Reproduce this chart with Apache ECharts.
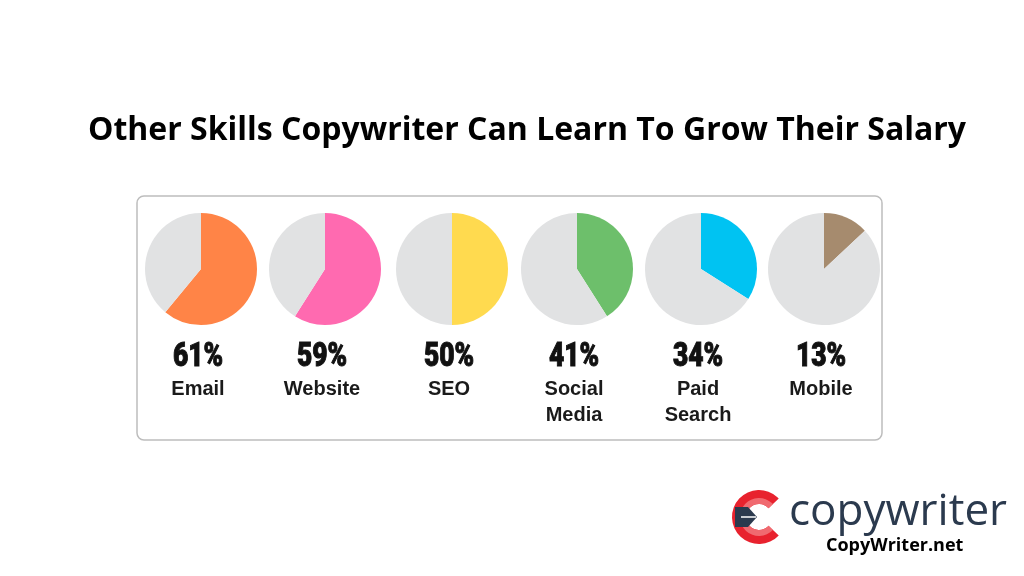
<!DOCTYPE html>
<html><head><meta charset="utf-8">
<script src="https://cdn.jsdelivr.net/npm/echarts@6/dist/echarts.min.js"></script>
<style>html,body{margin:0;padding:0;background:#fff}#c{width:1024px;height:576px}</style>
</head><body><div id="c"></div>
<script>
var categories = ['Email', 'Website', 'SEO', 'Social\nMedia', 'Paid\nSearch', 'Mobile'];
var values = [61, 59, 50, 41, 34, 13];
var colors = ['#FF8447', '#FF6AB0', '#FFDA4F', '#6DBF6B', '#00C3F2', '#A68B6E'];
var restColor = '#E1E2E3';

var centersX = [201, 325, 452, 577, 701, 824];
var cy = 269;

var chart = echarts.init(document.getElementById('c'));
var series = [];
var graphics = [
  {type: 'rect', z: -10, shape: {x: 137, y: 196, width: 745, height: 244, r: 7},
   style: {fill: '#fff', stroke: '#BDBDBD', lineWidth: 1.5}},
  {type: 'sector', shape: {cx: 759, cy: 517, r: 27, r0: 13, startAngle: 0.75, endAngle: Math.PI * 2 - 0.75},
   style: {fill: '#E8222E'}},
  {type: 'sector', shape: {cx: 759, cy: 517, r: 19, r0: 13, startAngle: 0.75, endAngle: Math.PI * 2 - 0.75},
   style: {fill: '#F06A70'}},
  {type: 'polygon', shape: {points: [[735, 507], [748, 507], [757, 517], [748, 527], [735, 527]]},
   style: {fill: '#2B3A4E'}},
  {type: 'line', shape: {x1: 741, y1: 517, x2: 756, y2: 517}, style: {stroke: '#fff', lineWidth: 1.5}},
  {type: 'text', left: 789, top: 490,
   style: {text: 'copywriter', fontFamily: 'Open Sans', fontWeight: 500, fontSize: 44, fill: '#2B3A4E'}},
  {type: 'text', left: 826, top: 537,
   style: {text: 'CopyWriter.net', fontFamily: 'Open Sans', fontWeight: 'bold', fontSize: 18, fill: '#000'}}
];
var titles = [{
  text: 'Other Skills Copywriter Can Learn To Grow Their Salary',
  left: 527, top: 115, textAlign: 'center', padding: 0,
  textStyle: {fontFamily: 'Open Sans', fontWeight: 'bold', fontSize: 32, color: '#000'}
}];
values.forEach(function (v, i) {
  series.push({
    type: 'pie', center: [centersX[i], cy], radius: 56, startAngle: 90, clockwise: true,
    silent: true, label: {show: false}, labelLine: {show: false}, animation: false,
    itemStyle: {borderWidth: 0},
    data: [
      {value: v, name: categories[i], itemStyle: {color: colors[i]}},
      {value: 100 - v, name: 'rest', itemStyle: {color: restColor}}
    ]
  });
  graphics.push({
    type: 'text', x: centersX[i] - 3, y: 358, scaleX: 0.8,
    style: {text: v + '%', x: 0, y: 0, align: 'center', verticalAlign: 'middle',
      fontFamily: 'Roboto', fontWeight: 900, fontSize: 33, fill: '#111',
      stroke: '#111', lineWidth: 1}
  });
  titles.push({
    text: categories[i], left: centersX[i] - 3, top: 376, textAlign: 'center', padding: 0,
    textStyle: {fontFamily: 'Liberation Sans', fontWeight: 'bold', fontSize: 20, color: '#1a1a1a', lineHeight: 26}
  });
});

chart.setOption({
  animation: false,
  title: titles,
  series: series,
  graphic: graphics
});
</script>
</body></html>
